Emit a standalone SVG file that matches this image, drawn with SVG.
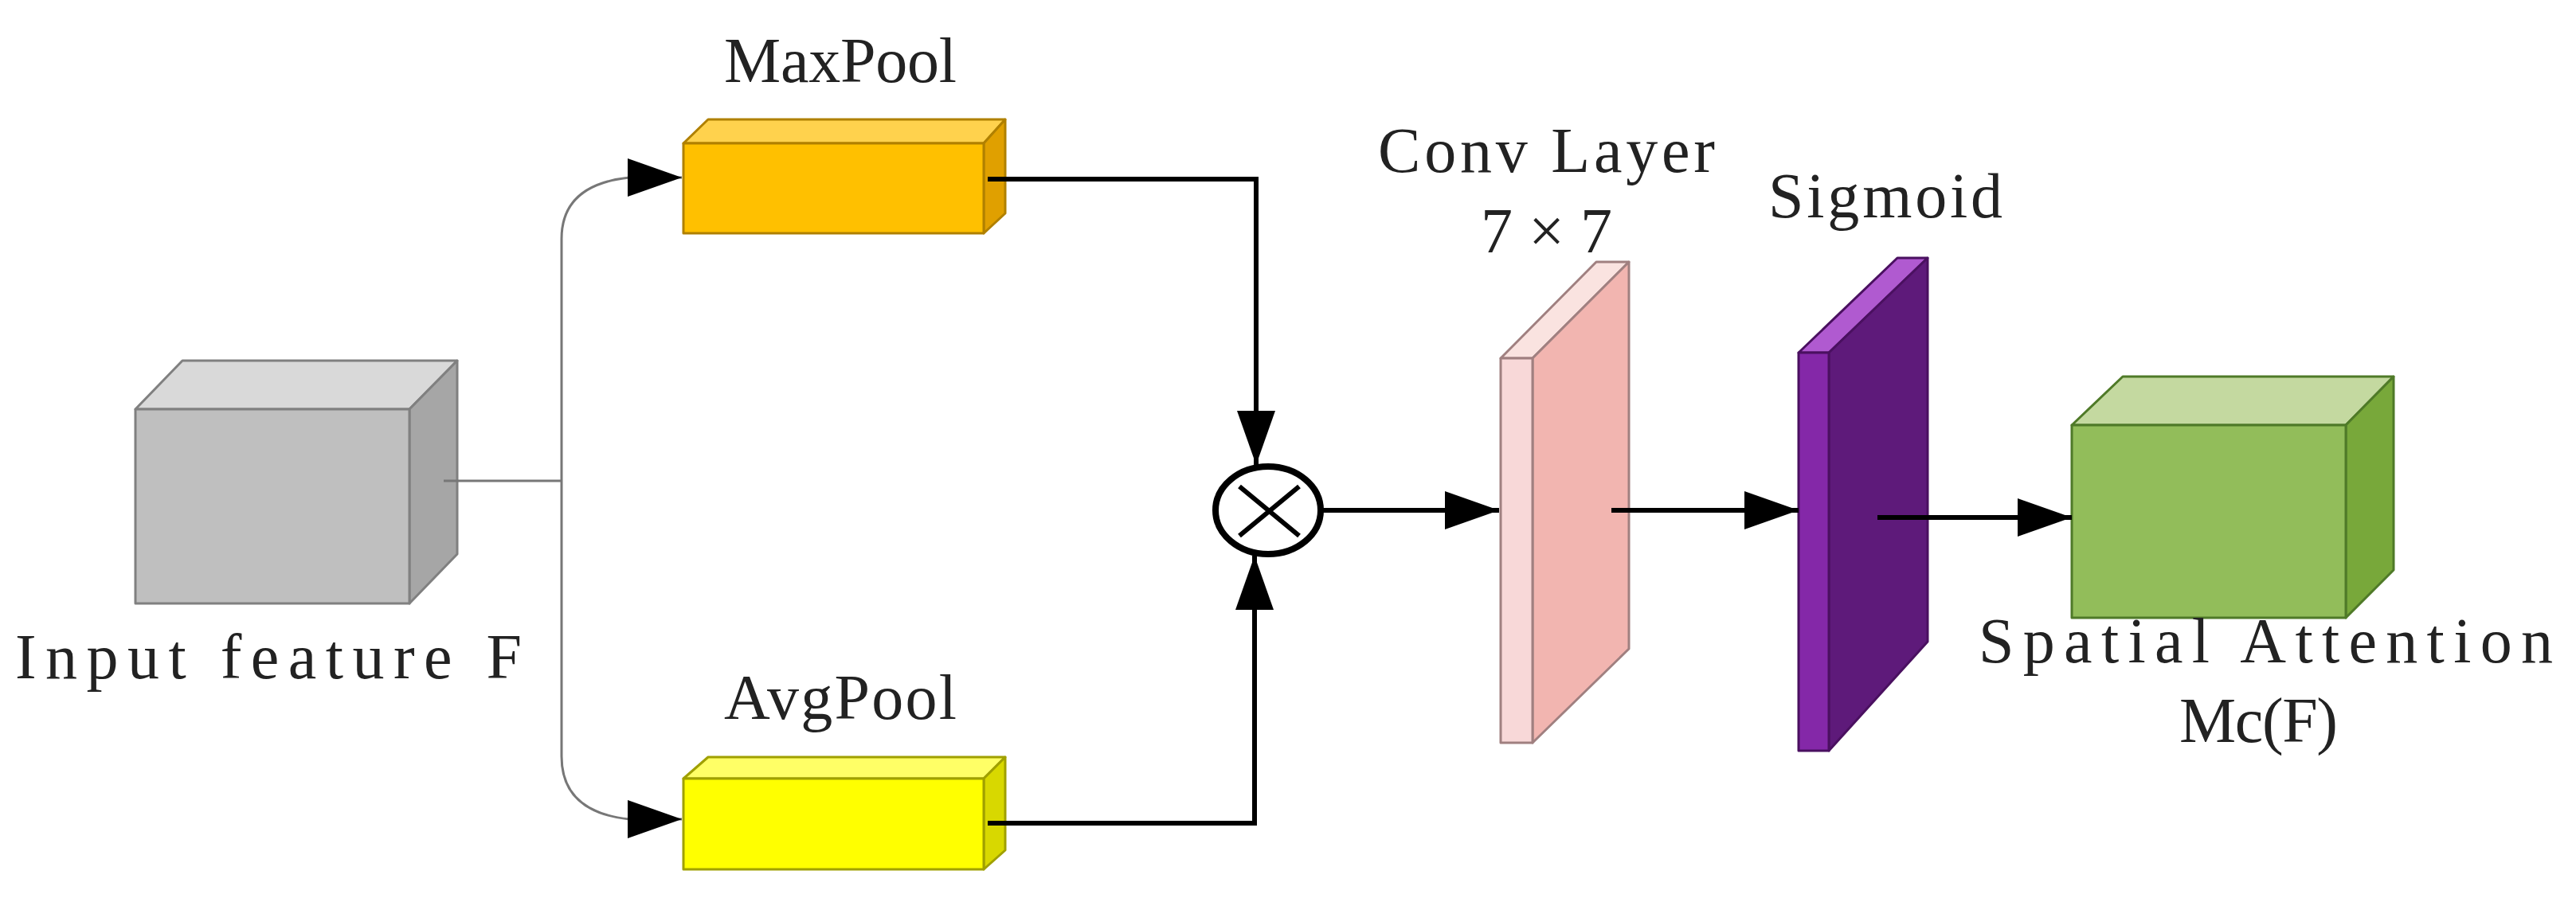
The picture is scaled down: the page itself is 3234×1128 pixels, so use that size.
<svg xmlns="http://www.w3.org/2000/svg" width="3234" height="1128" viewBox="0 0 3234 1128">
<style>
.t{font-family:"Liberation Serif","DejaVu Serif",serif;font-size:80px;fill:#222}
.c{stroke-width:3;stroke-linejoin:round}
.ln{fill:none;stroke:#000;stroke-width:6}
.thin{fill:none;stroke:#777;stroke-width:3}
</style>
<defs>
<marker id="ah" markerUnits="userSpaceOnUse" markerWidth="70" markerHeight="50" refX="68" refY="24" orient="auto">
<path d="M0,0 L68,24 L0,48 Z" fill="#000"/>
</marker>
</defs>
<g id="input">
<polygon class="c" points="170,514 229,453 574,453 514,514" fill="#d9d9d9" stroke="#808080"/>
<polygon class="c" points="514,514 574,453 574,696 514,758" fill="#a6a6a6" stroke="#808080"/>
<rect class="c" x="170" y="514" width="344" height="244" fill="#bfbfbf" stroke="#808080"/>
<text class="t" x="19" y="852" textLength="636" lengthAdjust="spacing">Input feature F</text>
</g>
<g id="maxpool">
<polygon class="c" points="858,180 889,150 1262,150 1235,180" fill="#ffd24d" stroke="#b08000"/>
<polygon class="c" points="1235,180 1262,150 1262,268 1235,293" fill="#e0a000" stroke="#b08000"/>
<rect class="c" x="858" y="180" width="377" height="113" fill="#ffc000" stroke="#b08000"/>
<text class="t" x="909" y="103" textLength="292" lengthAdjust="spacing">MaxPool</text>
</g>
<g id="avgpool">
<polygon class="c" points="858,978 889,951 1262,951 1235,978" fill="#ffff66" stroke="#a0a000"/>
<polygon class="c" points="1235,978 1262,951 1262,1068 1235,1092" fill="#d8d800" stroke="#a0a000"/>
<rect class="c" x="858" y="978" width="377" height="114" fill="#ffff00" stroke="#a0a000"/>
<text class="t" x="909" y="903" textLength="292" lengthAdjust="spacing">AvgPool</text>
</g>
<g id="multiply">
<ellipse cx="1592" cy="641" rx="66" ry="55" fill="#fff" stroke="#000" stroke-width="8"/>
<path d="M1556,611 L1631,673 M1631,611 L1556,673" stroke="#000" stroke-width="6"/>
</g>
<g id="conv">
<polygon class="c" points="1884,450 2004,329 2045,329 1924,450" fill="#fae3e0" stroke="#a08080"/>
<polygon class="c" points="1924,450 2045,329 2045,815 1924,933" fill="#f2b5b0" stroke="#a08080"/>
<rect class="c" x="1884" y="450" width="40" height="483" fill="#f8d8d8" stroke="#a08080"/>
<text class="t" x="1730" y="216" textLength="423" lengthAdjust="spacing">Conv Layer</text>
<text class="t" x="1859" y="317" textLength="165" lengthAdjust="spacing">7×7</text>
</g>
<g id="sigmoid">
<polygon class="c" points="2258,443 2382,324 2420,324 2296,443" fill="#b05ad0" stroke="#4a1060"/>
<polygon class="c" points="2296,443 2420,324 2420,806 2296,943" fill="#5e1a7a" stroke="#4a1060"/>
<rect class="c" x="2258" y="443" width="38" height="500" fill="#8428a8" stroke="#4a1060"/>
<text class="t" x="2220" y="273" textLength="294" lengthAdjust="spacing">Sigmoid</text>
</g>
<g id="output">
<polygon class="c" points="2601,534 2665,473 3005,473 2945,534" fill="#c4d9a0" stroke="#4f7a28"/>
<polygon class="c" points="2945,534 3005,473 3005,716 2945,776" fill="#78a83a" stroke="#4f7a28"/>
<rect class="c" x="2601" y="534" width="344" height="242" fill="#92bd5a" stroke="#4f7a28"/>
<text class="t" x="2484" y="832" textLength="721" lengthAdjust="spacing">Spatial Attention</text>
<text class="t" x="2736" y="932" textLength="199" lengthAdjust="spacing">Mc(F)</text>
</g>
<g id="connectors">
<path class="thin" d="M557,604 H705"/>
<path class="thin" d="M705,604 V300 Q705,232 790,223 L856,223" marker-end="url(#ah)"/>
<path class="thin" d="M705,604 V950 Q705,1020 790,1029 L856,1029" marker-end="url(#ah)"/>
<path class="ln" d="M1240,225 H1577 V584" marker-end="url(#ah)"/>
<path class="ln" d="M1240,1034 H1575 V698" marker-end="url(#ah)"/>
<path class="ln" d="M1660,641 H1882" marker-end="url(#ah)"/>
<path class="ln" d="M2023,641 H2258" marker-end="url(#ah)"/>
<path class="ln" d="M2357,650 H2601" marker-end="url(#ah)"/>
</g>
</svg>
